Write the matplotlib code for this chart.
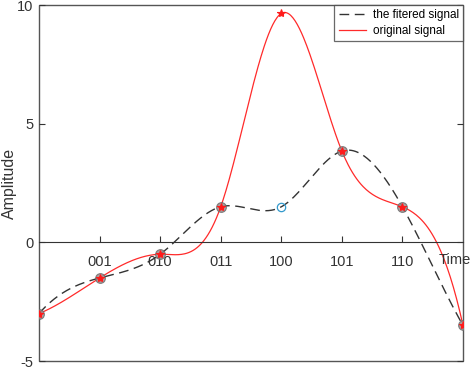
import numpy as np
import matplotlib.pyplot as plt
from matplotlib.patches import Rectangle

plt.rcParams['font.family'] = ['Liberation Sans', 'DejaVu Sans']
plt.rcParams['axes.unicode_minus'] = False

# data
t = [0, 1, 2, 3, 4, 5, 6, 7]
original = [-3.0, -1.5, -0.5, 1.5, 9.65, 3.85, 1.5, -3.5]
filtered = [-3.0, -1.5, -0.5, 1.5, 1.5, 3.85, 1.5, -3.5]
tick_pos = [1, 2, 3, 4, 5, 6]
tick_labels = ['001', '010', '011', '100', '101', '110']


def spline(x, y, xs):
    # not-a-knot cubic spline (like matlab spline)
    x = np.asarray(x, float)
    y = np.asarray(y, float)
    n = len(x)
    h = np.diff(x)
    A = np.zeros((n, n))
    b = np.zeros(n)
    A[0, 0], A[0, 1], A[0, 2] = h[1], -(h[0] + h[1]), h[0]
    A[-1, -3], A[-1, -2], A[-1, -1] = h[-1], -(h[-2] + h[-1]), h[-2]
    for i in range(1, n - 1):
        A[i, i - 1] = h[i - 1]
        A[i, i] = 2 * (h[i - 1] + h[i])
        A[i, i + 1] = h[i]
        b[i] = 6 * ((y[i + 1] - y[i]) / h[i] - (y[i] - y[i - 1]) / h[i - 1])
    m = np.linalg.solve(A, b)
    idx = np.clip(np.searchsorted(x, xs) - 1, 0, n - 2)
    dx = xs - x[idx]
    hi = h[idx]
    a = y[idx]
    bb = (y[idx + 1] - y[idx]) / hi - hi * (2 * m[idx] + m[idx + 1]) / 6
    c = m[idx] / 2
    d = (m[idx + 1] - m[idx]) / (6 * hi)
    return a + bb * dx + c * dx ** 2 + d * dx ** 3


xs = np.linspace(0, 7, 400)

fig = plt.figure(figsize=(4.74, 3.68), dpi=100)
ax = fig.add_axes([0.0823, 0.019, 0.8945, 0.967])

ax.plot(xs, spline(t, filtered, xs), color='#333333', lw=1.0,
        dashes=(7, 4), label='the fitered signal')
ax.plot(xs, spline(t, original, xs), color='#ff2a2a', lw=0.9,
        label='original signal')

mk = [i for i in range(len(t)) if i != 4]
ax.plot([t[i] for i in mk], [filtered[i] for i in mk], 'o', ms=7,
        mfc='#9a8a8a', mec='#666666', mew=0.8, alpha=0.8)
ax.plot(t[4], filtered[4], 'o', ms=6, mfc='none', mec='#3399cc', mew=0.9)
ax.plot(t, original, '*', ms=6, color='#ff1a1a', mew=0.8)

ax.set_xlim(0, 7)
ax.set_ylim(-5, 10)
ax.set_yticks([-5, 0, 5, 10])
ax.set_xticks(tick_pos)
ax.set_xticklabels(tick_labels)

ax.spines['bottom'].set_position(('data', 0))
for s in ['top', 'right', 'left']:
    ax.spines[s].set_visible(False)
ax.spines['bottom'].set_color('#333333')
ax.add_patch(Rectangle((0, 0), 1, 1, transform=ax.transAxes, fill=False,
                       ec='#555555', lw=1.0, clip_on=False))
ax.tick_params(axis='x', direction='in', length=4, pad=9, labelsize=10.5,
               color='#333333', labelcolor='#333333')
ax.tick_params(axis='y', direction='in', length=4, pad=4, labelsize=10.5,
               color='#333333', labelcolor='#333333', right=True)
ax.set_ylabel('Amplitude', fontsize=11.5, color='#333333')
ax.yaxis.set_label_coords(-0.052, 0.5)
ax.text(6.6, -0.75, 'Time', fontsize=10.5, color='#333333', ha='left',
        va='center', clip_on=False)

leg = ax.legend(loc='upper right', fontsize=8.5, frameon=True, fancybox=False,
                borderaxespad=0, handlelength=2.3, handletextpad=0.6,
                borderpad=0.35, labelspacing=0.3)
leg.get_frame().set_edgecolor('#444444')
leg.get_frame().set_linewidth(0.9)

fig.savefig('out.png', dpi=100)
